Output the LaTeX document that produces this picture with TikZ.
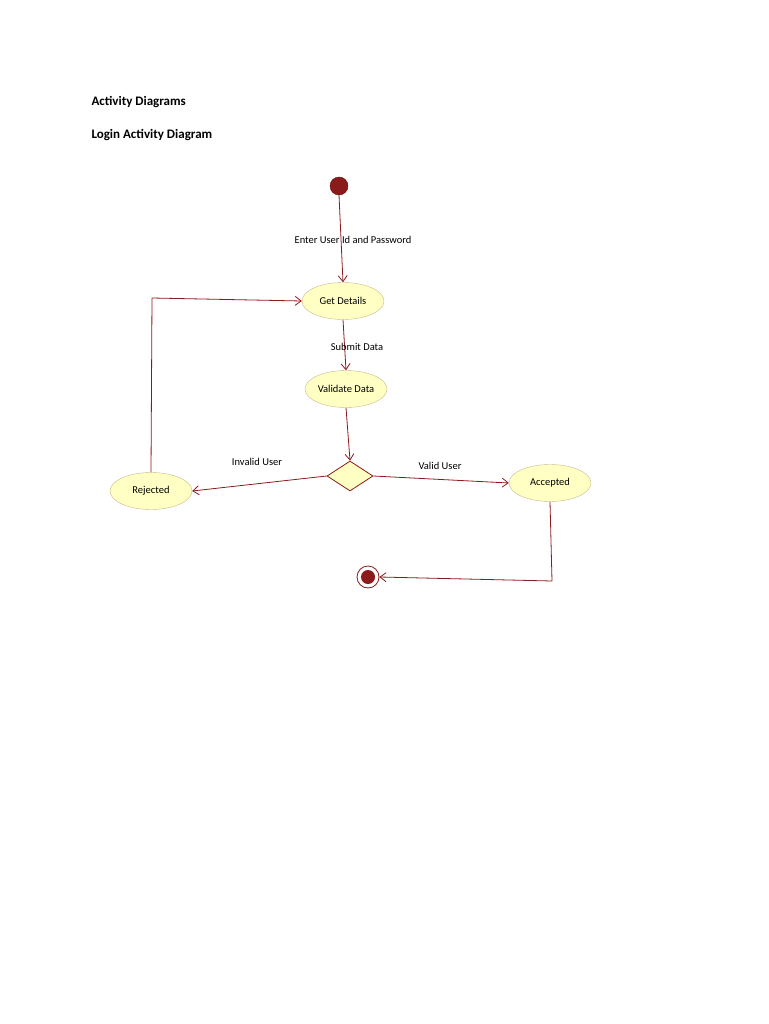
\documentclass[tikz,border=0pt]{standalone}
\usepackage{fontspec}
\setmainfont{Carlito}
\usetikzlibrary{shapes.geometric,arrows.meta}
\definecolor{dred}{HTML}{8B1A1A}
\definecolor{lyel}{HTML}{FFFFC4}
\definecolor{tan}{HTML}{C8B88A}
\begin{document}
\begin{tikzpicture}[x=1pt,y=-1pt,
  act/.style={ellipse,draw=tan,fill=lyel,minimum width=82pt,minimum height=37pt,inner sep=0pt,font=\fontsize{10.5}{12}\selectfont},
  flow/.style={draw=dred,line width=0.8pt,-{Straight Barb[length=6pt,width=9pt]}},
  lbl/.style={font=\fontsize{10.5}{12}\selectfont},
  ttl/.style={anchor=west,font=\fontsize{13}{15}\selectfont\bfseries}]
\useasboundingbox (0,0) rectangle (768,1024);
\node[ttl] (t1) at (88,102) {Activity Diagrams};
\node[ttl] (t2) at (88,135) {Login Activity Diagram};
\node[circle,fill=dred,draw=dred!70!black,minimum size=18pt,inner sep=0pt] (start) at (339,186) {};
\node[act] (get) at (343,301) {Get Details};
\node[act] (val) at (346,389) {Validate Data};
\node[diamond,draw=dred,line width=0.8pt,fill=lyel,minimum width=46pt,minimum height=30pt,inner sep=0pt,aspect=1.5] (dec) at (350,476) {};
\node[act] (rej) at (151,491) {Rejected};
\node[act] (acc) at (550,483) {Accepted};
\node[circle,draw=dred,line width=0.8pt,minimum size=22pt,inner sep=0pt] (end) at (368,577) {};
\node[circle,fill=dred,minimum size=14pt,inner sep=0pt] (endi) at (368,577) {};
\draw[flow] (start.south) -- (get.north);
\node[lbl] (l1) at (353,240) {Enter User Id and Password};
\draw[flow] (get.south) -- (val.north);
\node[lbl] (l2) at (357,347) {Submit Data};
\draw[flow] (val.south) -- (dec.north);
\draw[flow] (dec.west) -- (rej.east);
\node[lbl] (l3) at (257,462) {Invalid User};
\draw[flow] (dec.east) -- (acc.west);
\node[lbl] (l4) at (440,466) {Valid User};
\coordinate (c1) at (152,298);
\draw[flow] (rej.north) -- (c1) -- (get.west);
\coordinate (c2) at (552,581);
\draw[flow] (acc.south) -- (c2) -- (end.east);
\end{tikzpicture}
\end{document}
